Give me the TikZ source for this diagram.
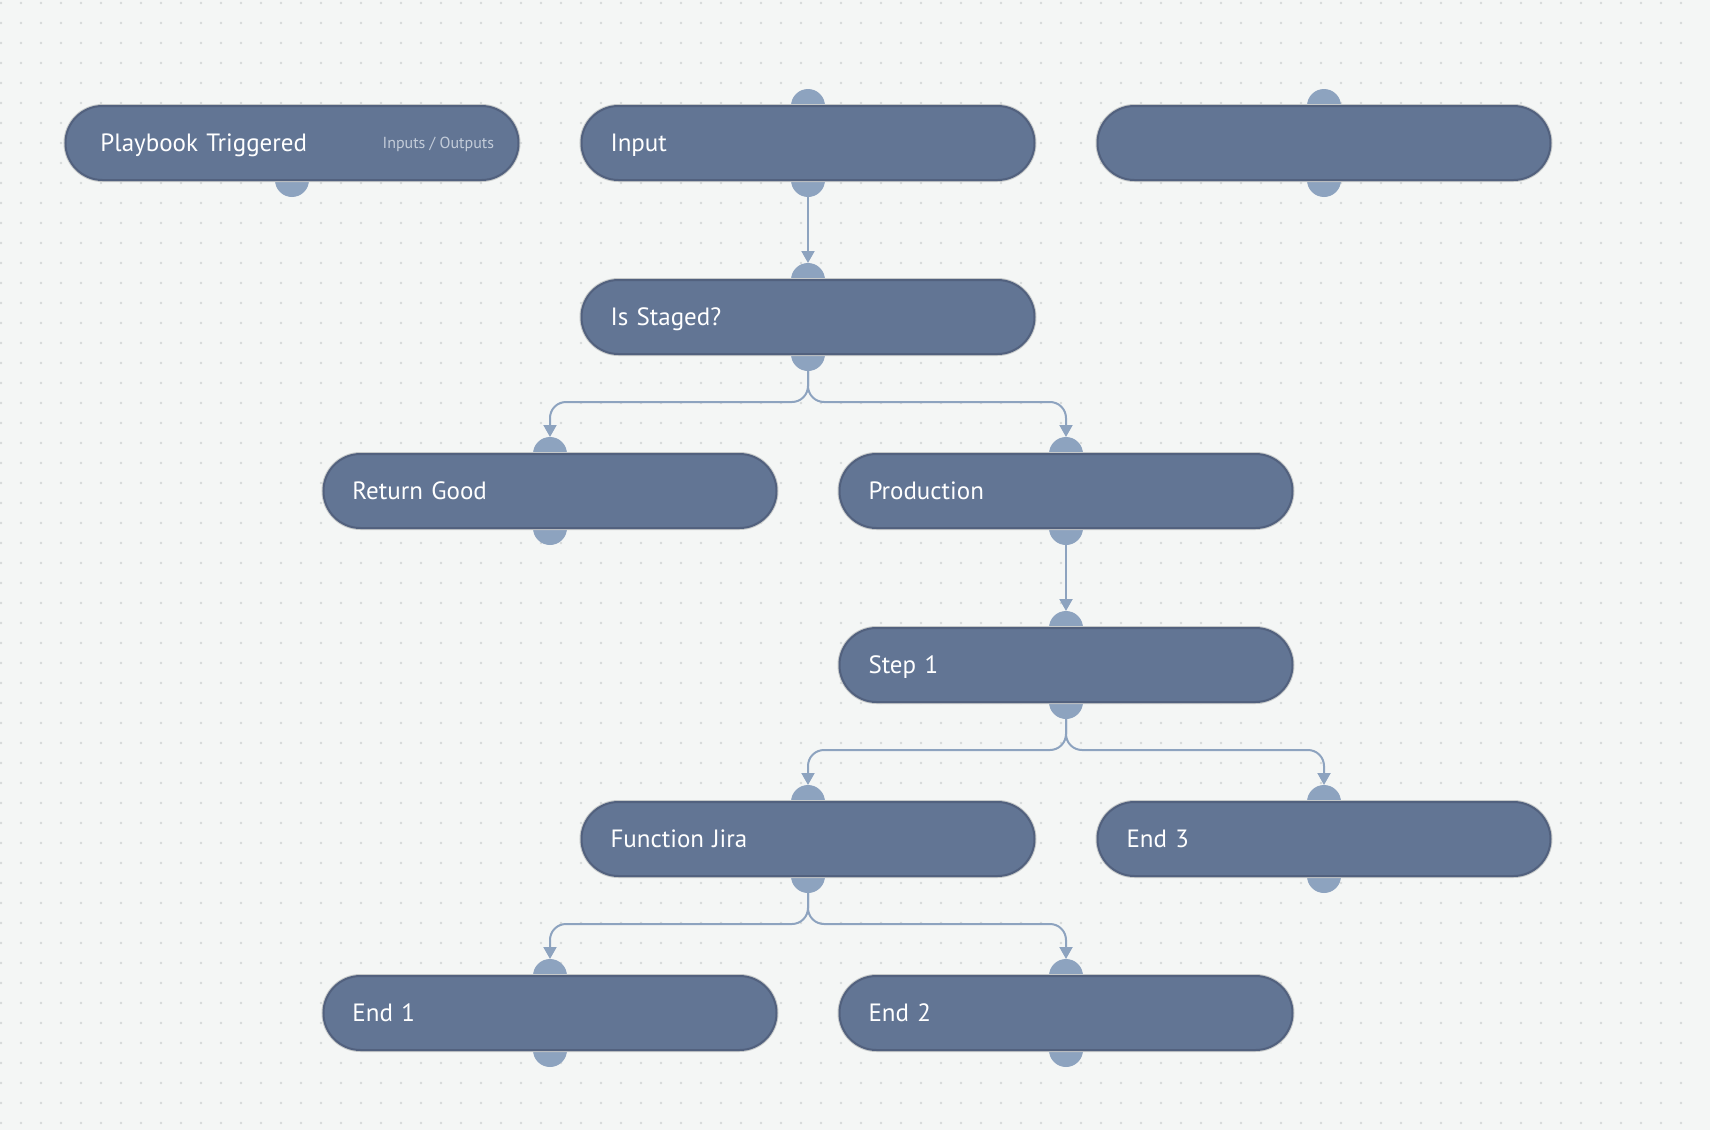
\documentclass[tikz,border=0pt]{standalone}
\usepackage{fontspec}
\setmainfont{PT Sans}
\usepackage{xcolor}
\usepackage{tikz}
\usetikzlibrary{arrows.meta,positioning}
\pgfdeclarelayer{grid}
\pgfdeclarelayer{ports}
\pgfsetlayers{grid,ports,main}
\tikzset{
  flowbox/.style={rectangle, rounded corners=18.5pt, draw=boxedge, line width=1pt, fill=boxfill, text=white,
    preaction={draw=halo, line width=2pt}, minimum width=226.5pt, minimum height=37pt, text width=197.5pt,
    inner xsep=14.5pt, outer sep=0pt, align=left, text height=8.6pt, text depth=0pt,
    font=\fontsize{12.5}{14}\selectfont},
  triggerbox/.style={flowbox, inner xsep=17.5pt, text width=191.5pt},
  iolabel/.style={text=iotext, font=\fontsize{8}{10}\selectfont, inner sep=0pt, text height=5.6pt, text depth=0pt},
  port/.style={fill=portfill},
  flowarrow/.style={-{Triangle[width=6.5pt,length=6pt]}, line width=1pt, draw=portfill, rounded corners=8pt},
  dotrow/.style={draw=dotgray, line width=1.3pt, line cap=round, dash pattern=on 0pt off 10pt}
}
\definecolor{bgpage}{HTML}{F4F6F5}
\definecolor{dotgray}{HTML}{D6D9D9}
\definecolor{boxfill}{HTML}{627594}
\definecolor{boxedge}{HTML}{52617E}
\definecolor{halo}{HTML}{C6C9C9}
\definecolor{portfill}{HTML}{8DA3BF}
\definecolor{iotext}{HTML}{C3CCD9}

\begin{document}
\begin{tikzpicture}[node distance=50pt and 31.5pt]
\useasboundingbox (-146pt,71.5pt) rectangle (709pt,-493.5pt);
% page and dot grid
\begin{pgfonlayer}{grid}
\fill[bgpage] (-146pt,71.5pt) rectangle (709pt,-493.5pt);
\foreach \j [evaluate=\j as \yy using 70-10*\j] in {0,...,56}
  \draw[dotrow] (-145.5pt,\yy pt) -- ++(850pt,0);
\end{pgfonlayer}

% steps
\node[triggerbox] (trigger) at (0,0) {Playbook Triggered};
\node[iolabel, anchor=east] (trigio) at ([xshift=-12pt]trigger.east) {Inputs / Outputs};
\node[flowbox, right=of trigger] (input) {Input};
\node[flowbox, right=of input] (blank) {};
\node[flowbox, below=of input] (staged) {Is Staged?};
\node[flowbox, below=of staged, xshift=-129pt] (retgood) {Return Good};
\node[flowbox, below=of staged, xshift=129pt] (prod) {Production};
\node[flowbox, below=of prod] (step) {Step 1};
\node[flowbox, below=of step, xshift=-129pt] (jira) {Function Jira};
\node[flowbox, below=of step, xshift=129pt] (endc) {End 3};
\node[flowbox, below=of jira, xshift=-129pt] (enda) {End 1};
\node[flowbox, below=of jira, xshift=129pt] (endb) {End 2};

% ports
\begin{pgfonlayer}{ports}
\fill[port] (trigger.south) circle (8.5pt);
\foreach \n in {input,blank,staged,retgood,prod,step,jira,endc,enda,endb} {
  \fill[port] (\n.north) circle (8.5pt);
  \fill[port] (\n.south) circle (8.5pt);
}
\end{pgfonlayer}

% connectors
\draw[flowarrow] ([yshift=-8.5pt]input.south) -- ([yshift=8.5pt]staged.north);
\draw[flowarrow] ([yshift=-8.5pt]staged.south) -- ++(0,-15.5pt) -| ([yshift=8.5pt]retgood.north);
\draw[flowarrow] ([yshift=-8.5pt]staged.south) -- ++(0,-15.5pt) -| ([yshift=8.5pt]prod.north);
\draw[flowarrow] ([yshift=-8.5pt]prod.south) -- ([yshift=8.5pt]step.north);
\draw[flowarrow] ([yshift=-8.5pt]step.south) -- ++(0,-15.5pt) -| ([yshift=8.5pt]jira.north);
\draw[flowarrow] ([yshift=-8.5pt]step.south) -- ++(0,-15.5pt) -| ([yshift=8.5pt]endc.north);
\draw[flowarrow] ([yshift=-8.5pt]jira.south) -- ++(0,-15.5pt) -| ([yshift=8.5pt]enda.north);
\draw[flowarrow] ([yshift=-8.5pt]jira.south) -- ++(0,-15.5pt) -| ([yshift=8.5pt]endb.north);
\end{tikzpicture}
\end{document}
